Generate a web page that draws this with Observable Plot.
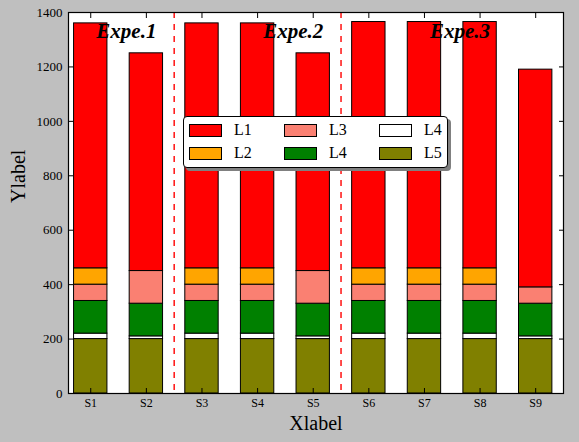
<!DOCTYPE html>
<html>
<head>
<meta charset="utf-8">
<script src="https://cdn.jsdelivr.net/npm/d3@7"></script>
<script src="https://cdn.jsdelivr.net/npm/@observablehq/plot@0.6"></script>
<style>
  body { margin: 0; background: #bfbfbf; }
  #chart { position: relative; width: 579px; height: 442px; }
  #legend {
    position: absolute; left: 183px; top: 116px; width: 263px; height: 50px;
    background: white; border: 1px solid black; border-radius: 4px;
    box-shadow: 3px 3px 0 #808080;
    font-family: "Liberation Serif", serif; font-size: 16px;
  }
  .item { position: absolute; display: flex; align-items: center; }
  .swatch { width: 31px; height: 11px; border: 1px solid black; margin-right: 12px; }
</style>
</head>
<body>
<div id="chart"></div>
<script>
// values
const samples = ["S1", "S2", "S3", "S4", "S5", "S6", "S7", "S8", "S9"];
const L1 = [900, 800, 900, 900, 800, 905, 905, 905, 800];
const L2 = [60, 0, 60, 60, 0, 60, 60, 60, 0];
const L3 = [60, 120, 60, 60, 120, 60, 60, 60, 60];
const L4green = [120, 120, 120, 120, 120, 120, 120, 120, 120];
const L4white = [20, 10, 20, 20, 10, 20, 20, 20, 10];
const L5 = [200, 200, 200, 200, 200, 200, 200, 200, 200];

const dividers = [1.5, 4.5];
const expes = [{x: 0.1, label: "Expe.1"}, {x: 3.1, label: "Expe.2"}, {x: 6.1, label: "Expe.3"}];
const yTicks = [0, 200, 400, 600, 800, 1000, 1200, 1400];

// stacked bottom to top
const layers = [
  {name: "L5", values: L5, color: "#808000"},
  {name: "L4", values: L4white, color: "#ffffff"},
  {name: "L4", values: L4green, color: "#008000"},
  {name: "L3", values: L3, color: "#fa8072"},
  {name: "L2", values: L2, color: "#ffa500"},
  {name: "L1", values: L1, color: "#ff0000"}
];

let rows = [];
samples.forEach((s, i) => {
  let base = 0;
  layers.forEach(l => {
    rows.push({i: i, y1: base, y2: base + l.values[i], color: l.color});
    base += l.values[i];
  });
});

const idx = samples.map((s, i) => i);

let plot = Plot.plot({
  width: 579,
  height: 442,
  marginLeft: 68,
  marginRight: 16,
  marginTop: 12,
  marginBottom: 49,
  style: {background: "#bfbfbf", fontFamily: "Liberation Serif", fontSize: 13, color: "black"},
  x: {domain: [-0.4, 8.5]},
  y: {domain: [0, 1400]},
  marks: [
    Plot.frame({fill: "white"}),
    Plot.rect(rows, {x1: d => d.i - 0.3, x2: d => d.i + 0.3, y1: "y1", y2: "y2", fill: "color", stroke: "black", strokeWidth: 1}),
    Plot.ruleX(dividers, {stroke: "#ff0000", strokeDasharray: "6,6", strokeWidth: 1.4}),
    Plot.text(expes, {x: "x", y: 1330, text: "label", textAnchor: "start", fontSize: 21, fontWeight: "bold", fontStyle: "italic", fill: "black"}),
    Plot.axisX(idx, {anchor: "bottom", tickSize: -5, tickPadding: 10, tickFormat: i => samples[i], label: null, fontSize: 12}),
    Plot.axisX(idx, {anchor: "top", tickSize: -5, fill: "none", label: null}),
    Plot.axisY(yTicks, {anchor: "left", tickSize: -5, tickPadding: 11, tickFormat: d => String(d), label: null, fontSize: 13}),
    Plot.axisY(yTicks, {anchor: "right", tickSize: -5, fill: "none", label: null}),
    Plot.frame({stroke: "black", strokeWidth: 1.2}),
    Plot.text(["Xlabel"], {frameAnchor: "bottom", dy: 36, text: d => d, fontSize: 20, fill: "black"}),
    Plot.text(["Ylabel"], {frameAnchor: "left", dx: -50, rotate: -90, text: d => d, fontSize: 20, fill: "black"})
  ]
});

const chart = document.getElementById("chart");
chart.append(plot);

// legend drawn inside the axes, 3 columns x 2 rows
const legendItems = [
  {name: "L1", color: "#ff0000"}, {name: "L2", color: "#ffa500"},
  {name: "L3", color: "#fa8072"}, {name: "L4", color: "#008000"},
  {name: "L4", color: "#ffffff"}, {name: "L5", color: "#808000"}
];
const legend = document.createElement("div");
legend.id = "legend";
legendItems.forEach((d, k) => {
  const col = Math.floor(k / 2), row = k % 2;
  const item = document.createElement("div");
  item.className = "item";
  item.style.left = (5 + col * 95) + "px";
  item.style.top = (4 + row * 23) + "px";
  item.innerHTML = `<div class="swatch" style="background:${d.color}"></div><span>${d.name}</span>`;
  legend.append(item);
});
chart.append(legend);
</script>
</body>
</html>
